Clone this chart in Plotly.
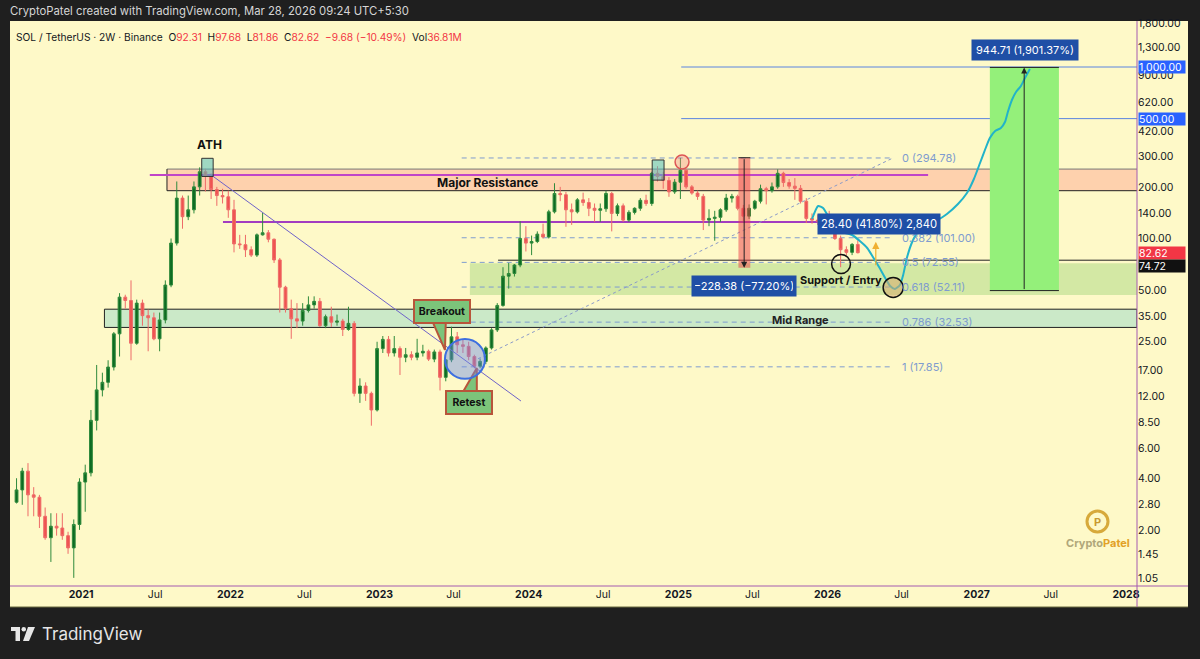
import numpy as np
import pandas as pd
import plotly.graph_objects as go

# ---------------- data ----------------
bar_start = "2020-07-27"   # first 2-week bar
opens = [2.9, 3.42, 4.4, 3.2, 3.1, 2.4, 1.8, 2.1, 2.05, 1.85, 1.57, 2.15, 3.8, 4.3, 8.7, 13.1, 14.5, 17.8, 27.8, 45.5,
         43.5, 24.5, 42, 35.5, 34.5, 26, 33.5, 53.5, 94, 172, 134, 147, 200, 245, 230, 193, 178, 175, 147, 93,
         92, 86, 80, 105, 108, 99, 75, 52, 39, 34, 33, 38, 41, 43, 31, 35, 32.5, 33, 29.5, 32,
         12.5, 13.8, 12.5, 10, 22.8, 25.8, 21.5, 22.8, 20.3, 21, 20.3, 21.5, 22, 19.8, 21.8, 15.5, 19.6, 26.7, 24, 23.5,
         20.5, 18, 19.2, 23, 29.3, 40.7, 60.3, 62.5, 70, 100, 94, 96, 106, 102, 143, 183, 180, 147, 143, 168,
         162, 150, 146, 149, 183, 140, 155, 128, 142, 150, 167, 160, 240, 230, 218, 187, 213, 250, 200, 184,
         176, 128, 131, 133, 147, 172, 176, 150, 135, 150, 165, 195, 190, 200, 240, 212, 202, 196, 165, 131,
         128, 126, 134, 128, 100, 86, 83, 92.31]
highs = [4.0, 4.6, 4.9, 3.55, 3.2, 2.7, 2.5, 2.5, 2.5, 1.95, 2.3, 4.0, 4.8, 10, 18.3, 16.5, 19.5, 28.5, 48, 47,
         57, 44, 44, 38.5, 37, 37, 57, 100, 215, 178, 178, 215, 260, 255, 240, 200, 195, 190, 168, 105,
         105, 90, 107, 141, 112, 100, 77, 53, 44, 42, 42, 46, 46, 45, 36, 40, 36, 34, 40, 33,
         15.3, 14.5, 12.8, 25, 27, 27, 27, 23.5, 23, 22, 26, 24, 22.5, 22.5, 22.5, 19.8, 30.6, 28.5, 26, 25,
         21, 20, 23.5, 30, 42, 68, 72, 71, 126, 118, 104, 110, 122, 147, 210, 200, 187, 160, 172, 185,
         172, 160, 160, 190, 187, 160, 160, 146, 152, 172, 180, 245, 264, 245, 228, 222, 295, 255, 205, 190,
         182, 148, 145, 150, 182, 182, 180, 157, 158, 168, 206, 200, 212, 253, 245, 222, 225, 205, 172, 140,
         138, 137, 145, 132, 104, 90, 94, 97.68]
lows = [2.85, 2.8, 2.4, 2.4, 2.05, 1.75, 1.3, 1.85, 1.75, 1.45, 1.05, 2.0, 2.55, 4.1, 7.6, 12, 13.5, 17, 20.5, 39,
        19.5, 24, 31, 22, 25.5, 22, 32, 52, 91, 114, 128, 140, 178, 188, 170, 155, 160, 132, 83, 87,
        78, 78, 78, 104, 95, 72, 37, 37, 26, 30, 31, 37, 39, 30.5, 30, 30.5, 31, 27, 29, 12,
        11, 11.3, 8.1, 9.8, 21.5, 20.5, 20.5, 16, 19, 19.5, 19.5, 20.5, 19.3, 19, 13, 14.7, 19, 21.5, 21.5, 19.5,
        17.5, 17.5, 18.5, 22.5, 28.5, 40, 51, 60, 68, 84, 80, 94, 100, 100, 140, 165, 117, 120, 140, 155,
        135, 125, 125, 143, 110, 135, 125, 125, 138, 145, 155, 155, 215, 195, 175, 182, 170, 195, 180, 168,
        112, 118, 97, 125, 143, 162, 146, 126, 130, 147, 160, 158, 185, 195, 200, 195, 168, 160, 123, 122,
        120, 118, 126, 98, 68, 80, 80, 81.86]
closes = [3.42, 4.4, 3.2, 3.1, 2.4, 1.8, 2.1, 2.05, 1.85, 1.57, 2.15, 3.8, 4.3, 8.7, 13.1, 14.5, 17.8, 27.8, 45.5, 43.5,
          24.5, 42, 35.5, 34.5, 26, 33.5, 53.5, 94, 172, 134, 147, 200, 245, 230, 193, 178, 175, 147, 93, 92,
          86, 80, 105, 108, 99, 75, 52, 39, 34, 33, 38, 41, 43, 31, 35, 32.5, 33, 29.5, 32, 12.5,
          13.8, 12.5, 10, 22.8, 25.8, 21.5, 22.8, 20.3, 21, 20.3, 21.5, 22, 19.8, 21.8, 15.5, 19.6, 26.7, 24, 23.5, 20.5,
          18, 19.2, 23, 29.3, 40.7, 60.3, 62.5, 70, 100, 94, 96, 106, 102, 143, 183, 180, 147, 143, 168, 162,
          150, 146, 149, 183, 140, 155, 128, 142, 150, 167, 160, 240, 230, 218, 187, 213, 250, 200, 184, 176,
          128, 131, 133, 147, 172, 176, 150, 135, 150, 165, 195, 190, 200, 240, 212, 202, 196, 165, 131, 128,
          126, 134, 128, 100, 86, 83, 92.31, 82.62]

# projected path (hand-drawn curve on the chart)
proj_dates = ["2025-11-24", "2025-12-09", "2025-12-21", "2026-01-02", "2026-01-17", "2026-02-05", "2026-03-02",
              "2026-03-21", "2026-04-08", "2026-04-22", "2026-05-07", "2026-05-22", "2026-06-03", "2026-06-15",
              "2026-06-27", "2026-07-05", "2026-07-14", "2026-07-27", "2026-08-10", "2026-08-30", "2026-09-23",
              "2026-10-20", "2026-11-16", "2026-12-08", "2026-12-25", "2027-01-09", "2027-01-21", "2027-02-02",
              "2027-02-15", "2027-03-01", "2027-03-11", "2027-03-18", "2027-03-28", "2027-04-07", "2027-04-19",
              "2027-04-29", "2027-05-11"]
proj_prices = [129.9, 154.7, 150.6, 135.3, 115.1, 109.1, 104.8, 96.7, 88.0, 78.0, 68.2, 58.9, 52.8, 50.8,
               53.6, 61.3, 76.9, 95.4, 109.1, 118.3, 126.5, 139.0, 158.9, 184.2, 222.3, 275.5, 328.1, 385.5,
               423.5, 441.0, 477.9, 546.6, 642.1, 714.9, 774.9, 862.8, 973.5]

fib_levels = ["0", "0.382", "0.5", "0.618", "0.786", "1"]
fib_prices = [294.78, 101.00, 72.55, 52.11, 32.53, 17.85]

y_ticks = [1.05, 1.45, 2, 2.8, 4, 6, 8.5, 12, 17, 25, 35, 50, 100, 140, 200, 300, 420, 620, 900, 1300, 1800]
x_ticks = ["2021-01-01", "2021-07-01", "2022-01-01", "2022-07-01", "2023-01-01", "2023-07-01", "2024-01-01",
           "2024-07-01", "2025-01-01", "2025-07-01", "2026-01-01", "2026-07-01", "2027-01-01", "2027-07-01",
           "2028-01-01"]
x_tick_text = ["<b>2021</b>", "Jul", "<b>2022</b>", "Jul", "<b>2023</b>", "Jul", "<b>2024</b>", "Jul",
               "<b>2025</b>", "Jul", "<b>2026</b>", "Jul", "<b>2027</b>", "Jul", "<b>2028</b>"]

last_open, last_high, last_low, last_close = 92.31, 97.68, 81.86, 82.62
entry_price = 74.72

dates = pd.date_range(bar_start, periods=len(opens), freq="14D")

# ---------------- styling ----------------
W, H = 1200, 659
PL, PR, PT, PB = 10, 1137, 21, 586
X_RANGE = ["2020-07-11", "2028-01-28"]
Y_RANGE = [-0.0263, 3.2682]
BG = "#fef9c8"
DARK = "#1f1f1f"
FONT = "Inter, Roboto, sans-serif"
GREEN = "#0d6b22"
RED = "#ef5350"
BLUE_LBL = "#1f4fa6"


def px(X):
    return (X - PL) / (PR - PL)


def py(Y):
    return (PB - Y) / (PB - PT)


def ly(p):
    return float(np.log10(p))


fig = go.Figure()

fig.add_trace(go.Candlestick(
    x=dates, open=opens, high=highs, low=lows, close=closes,
    increasing=dict(fillcolor=GREEN, line=dict(color="#2f8a3c", width=1)),
    decreasing=dict(fillcolor=RED, line=dict(color="#ee6b68", width=1)),
    whiskerwidth=0, hoverinfo="skip", showlegend=False))

shapes = []


def hline(x0, x1, p, color, width=1, dash="solid", layer="below"):
    shapes.append(dict(type="line", xref="x", yref="y", x0=x0, x1=x1, y0=p, y1=p,
                       line=dict(color=color, width=width, dash=dash), layer=layer))


def rect(x0, x1, p0, p1, fill, line_color=None, width=1, layer="below"):
    shapes.append(dict(type="rect", xref="x", yref="y", x0=x0, x1=x1, y0=p0, y1=p1,
                       fillcolor=fill, line=dict(color=line_color or "rgba(0,0,0,0)", width=width if line_color else 0),
                       layer=layer))


def circ(x0, x1, p0, p1, fill, line_color, width=1.5, layer="above"):
    shapes.append(dict(type="circle", xref="x", yref="y", x0=x0, x1=x1, y0=p0, y1=p1,
                       fillcolor=fill, line=dict(color=line_color, width=width), layer=layer))


right_edge = X_RANGE[1]

# zones
rect("2021-07-30", right_edge, 190, 254, "rgba(255,160,140,0.45)")
hline("2021-07-30", right_edge, 254, "#777777")
hline("2021-07-30", right_edge, 190, "#222222")
shapes.append(dict(type="line", xref="x", yref="y", x0="2021-07-30", x1="2021-07-30", y0=190, y1=254,
                   line=dict(color="#222222", width=1), layer="below"))
rect("2021-02-27", right_edge, 30.3, 38.7, "rgba(160,220,200,0.55)", "#222222")
rect("2023-08-10", right_edge, 46.8, 71.7, "rgba(160,210,120,0.45)")

# fib retracement
for lvl, p in zip(fib_levels, fib_prices):
    hline("2023-07-21", "2026-06-10", p, "#7f9ccf", 1, "5px,4px")

# horizontal lines
hline("2021-06-18", "2026-09-04", 234.6, "#c044c8", 2)
hline("2021-12-14", "2026-09-28", 124.8, "#a23cc0", 2)
hline("2023-10-18", right_edge, entry_price, "#222222", 1)
hline("2025-01-08", right_edge, 1000, "#5b84e0", 1)
hline("2025-01-08", right_edge, 500, "#5b84e0", 1)

# markers on tops
rect("2021-10-23", "2021-11-20", 230, 293.5, "rgba(80,190,190,0.55)", "#333333", 1, "above")
rect("2024-10-29", "2024-11-27", 219, 287, "rgba(80,190,190,0.55)", "#333333", 1, "above")
circ("2024-12-24", "2025-01-27", 254.2, 306.9, "rgba(240,130,130,0.35)", "#dd5555")

# measurement rectangles
rect("2025-05-28", "2025-06-26", 67.45, 295.83, "rgba(235,60,70,0.5)", None, 1, "above")
hline("2025-05-28", "2025-06-26", 295.83, "#222222", 1, "solid", "above")
rect("2027-02-02", "2027-07-21", 49.69, 994.4, "#94f07a", None, 1, "below")
hline("2027-02-02", "2027-07-21", 994.4, "#222222", 1, "solid", "above")
hline("2027-02-02", "2027-07-21", 49.69, "#222222", 1, "solid", "above")

# circles
circ("2023-06-10", "2023-09-16", 15.2, 25.9, "rgba(110,140,230,0.45)", "#3d6fe0", 2)
circ("2026-01-11", "2026-02-26", 62.5, 80.7, "rgba(0,0,0,0)", "#111111", 1.5)
circ("2026-05-17", "2026-07-05", 45.3, 59.2, "rgba(215,170,110,0.55)", "#111111", 1.5)

# trend lines
fig.add_trace(go.Scatter(x=["2021-11-12", "2023-12-13"], y=[237.7, 11.28], mode="lines",
                         line=dict(color="#6f62c9", width=1), hoverinfo="skip", showlegend=False))
fig.add_trace(go.Scatter(x=["2023-08-30", "2026-06-10"], y=[19.9, 294.78], mode="lines",
                         line=dict(color="#8a9ac9", width=1, dash="dot"), hoverinfo="skip", showlegend=False))

# projection
fig.add_trace(go.Scatter(x=proj_dates, y=proj_prices, mode="lines",
                         line=dict(color="#22b3c9", width=2, shape="spline", smoothing=0.6),
                         hoverinfo="skip", showlegend=False))

# callout pointers
CALL_FILL = "#7cc47a"
CALL_LINE = "#b8553a"
fig.add_trace(go.Scatter(x=["2023-05-12", "2023-06-12", "2023-06-10", "2023-05-12"], y=[32.2, 32.2, 22.4, 32.2],
                         mode="lines", fill="toself", fillcolor=CALL_FILL, line=dict(color=CALL_LINE, width=2),
                         hoverinfo="skip", showlegend=False))
fig.add_trace(go.Scatter(x=["2023-07-24", "2023-08-27", "2023-08-27", "2023-07-24"], y=[12.74, 12.74, 17.58, 12.74],
                         mode="lines", fill="toself", fillcolor=CALL_FILL, line=dict(color=CALL_LINE, width=2),
                         hoverinfo="skip", showlegend=False))

# chrome shapes (axis backgrounds, borders, logo)
shapes += [
    dict(type="rect", xref="paper", yref="paper", x0=px(1137), x1=px(1188), y0=py(607), y1=py(PT),
         fillcolor=BG, line=dict(width=0), layer="below"),
    dict(type="rect", xref="paper", yref="paper", x0=px(PL), x1=px(1188), y0=py(607), y1=py(PB),
         fillcolor=BG, line=dict(width=0), layer="below"),
    dict(type="line", xref="paper", yref="paper", x0=px(PL), x1=px(1188), y0=py(607), y1=py(607),
         line=dict(color="#6b6a40", width=1)),
    dict(type="line", xref="paper", yref="paper", x0=px(PL), x1=px(1188), y0=py(PB), y1=py(PB),
         line=dict(color="#a45bb0", width=1)),
    dict(type="line", xref="paper", yref="paper", x0=1, x1=1, y0=py(607), y1=py(PT),
         line=dict(color="#a45bb0", width=1)),
    # CryptoPatel logo ring
    dict(type="circle", xref="paper", yref="paper", x0=px(1087), x1=px(1108), y0=py(532), y1=py(511),
         fillcolor="rgba(0,0,0,0)", line=dict(color="#d7a93a", width=3)),
    # TradingView logo glyph
    dict(type="rect", xref="paper", yref="paper", x0=px(11), x1=px(20), y0=py(631), y1=py(627),
         fillcolor="#e6e6e6", line=dict(width=0)),
    dict(type="rect", xref="paper", yref="paper", x0=px(15.5), x1=px(20), y0=py(641), y1=py(627),
         fillcolor="#e6e6e6", line=dict(width=0)),
    dict(type="circle", xref="paper", yref="paper", x0=px(21.5), x1=px(26), y0=py(631.5), y1=py(627),
         fillcolor="#e6e6e6", line=dict(width=0)),
    dict(type="path", xref="paper", yref="paper",
         path=f"M {px(28)} {py(627)} L {px(35)} {py(627)} L {px(29)} {py(641)} L {px(23)} {py(641)} Z",
         fillcolor="#e6e6e6", line=dict(width=0)),
]

ann = []


def dtext(x, p, text, size=11, color="#111111", bold=False, xanchor="center", **kw):
    t = f"<b>{text}</b>" if bold else text
    ann.append(dict(x=x, y=ly(p), xref="x", yref="y", text=t, showarrow=False, xanchor=xanchor,
                    yanchor="middle", font=dict(family=FONT, size=size, color=color), **kw))


def darrow(x, p_head, p_tail, color, width=1):
    ann.append(dict(x=x, y=ly(p_head), ax=x, ay=ly(p_tail), xref="x", yref="y", axref="x", ayref="y",
                    text="", showarrow=True, arrowhead=2, arrowsize=1.2, arrowwidth=width, arrowcolor=color))


dtext("2021-11-12", 351, "ATH", 12, bold=True)
dtext("2023-09-23", 213.5, "Major Resistance", 12, bold=True)
dtext("2025-10-26", 33.5, "Mid Range", 11, "#222222", bold=True)
dtext("2026-02-03", 57.3, "Support / Entry", 11, bold=True)
for lvl, p in zip(fib_levels, fib_prices):
    dtext("2026-06-27", p, f"{lvl} ({p:.2f})", 11, "#7f9ccf", xanchor="left")

# callout boxes
dtext("2023-06-03", 37.3, "Breakout", 10.5, bold=True, bgcolor=CALL_FILL, bordercolor=CALL_LINE,
      borderwidth=2, borderpad=4, width=46)
dtext("2023-08-08", 10.99, "Retest", 10.5, bold=True, bgcolor=CALL_FILL, bordercolor=CALL_LINE,
      borderwidth=2, borderpad=4, width=36)

# measurement labels
dtext("2025-06-11", 52.8, "\u2212228.38 (\u221277.20%)", 11, "#ffffff", bgcolor=BLUE_LBL, borderpad=3, width=98)
dtext("2026-05-06", 122.3, "28.40 (41.80%) 2,840", 11.2, "#ffffff", bgcolor=BLUE_LBL, borderpad=3, width=116)
dtext("2027-04-28", 1256, "944.71 (1,901.37%)", 11, "#ffffff", bgcolor=BLUE_LBL, borderpad=3, width=100)

darrow("2025-06-11", 67.45, 295.83, "#222222")
darrow("2027-04-27", 994.4, 49.69, "#222222")
darrow("2026-04-29", 95.8, 68.5, "#f0b030", 1.2)

# price axis badges (the 74.72 badge is nudged down to clear the last-price badge, as on the chart)
for p, bg, txt, shift in [(1000, "#2962ff", "1,000.00", 0), (500, "#2962ff", "500.00", 0),
                          (last_close, "#f23645", f"{last_close:.2f}", 0),
                          (entry_price, "#111111", f"{entry_price:.2f}", -6)]:
    ann.append(dict(x=1, y=ly(p), xref="paper", yref="y", text=txt, showarrow=False, xanchor="left",
                    yanchor="middle", xshift=1, yshift=shift, bgcolor=bg, borderpad=0, width=46, height=12,
                    align="left", font=dict(family=FONT, size=10.5, color="#ffffff")))

# chrome text
red = "#f23645"
legend = ("SOL / TetherUS \u00b7 2W \u00b7 Binance\u00a0\u00a0"
          f"O<span style='color:{red}'>{last_open:.2f}</span>\u00a0\u00a0"
          f"H<span style='color:{red}'>{last_high:.2f}</span>\u00a0\u00a0"
          f"L<span style='color:{red}'>{last_low:.2f}</span>\u00a0\u00a0"
          f"C<span style='color:{red}'>{last_close:.2f}</span>\u00a0\u00a0"
          f"<span style='color:{red}'>\u22129.68 (\u221210.49%)</span>\u00a0\u00a0"
          f"Vol<span style='color:{red}'>36.81M</span>")
ann.append(dict(x=px(14), y=py(37), xref="paper", yref="paper", text=legend, showarrow=False,
                xanchor="left", yanchor="middle", font=dict(family=FONT, size=10.2, color="#131722")))
ann.append(dict(x=px(8), y=py(11), xref="paper", yref="paper",
                text="CryptoPatel created with TradingView.com, Mar 28, 2026 09:24 UTC+5:30", showarrow=False,
                xanchor="left", yanchor="middle", font=dict(family=FONT, size=11.3, color="#d6d6d6")))
ann.append(dict(x=px(40), y=py(634), xref="paper", yref="paper", text="TradingView", showarrow=False,
                xanchor="left", yanchor="middle", font=dict(family=FONT, size=17, color="#e6e6e6")))
ann.append(dict(x=px(1097.5), y=py(521.5), xref="paper", yref="paper", text="<b>P</b>", showarrow=False,
                xanchor="center", yanchor="middle", font=dict(family=FONT, size=11, color="#c89a30")))
ann.append(dict(x=px(1098), y=py(543), xref="paper", yref="paper",
                text="<b><span style='color:#b0a77a'>Crypto</span><span style='color:#e2a126'>Patel</span></b>",
                showarrow=False, xanchor="center", yanchor="middle", font=dict(family=FONT, size=11)))

fig.update_layout(
    width=W, height=H, autosize=False,
    margin=dict(l=PL, r=W - PR, t=PT, b=H - PB, pad=0),
    paper_bgcolor=DARK, plot_bgcolor=BG,
    showlegend=False, hovermode=False,
    shapes=shapes, annotations=ann,
    font=dict(family=FONT, color="#131722"),
    xaxis=dict(type="date", range=X_RANGE, rangeslider=dict(visible=False), showgrid=False, zeroline=False,
               tickmode="array", tickvals=x_ticks, ticktext=x_tick_text, ticks="", showline=False,
               tickfont=dict(family=FONT, size=10.5, color="#131722")),
    yaxis=dict(type="log", range=Y_RANGE, side="right", showgrid=False, zeroline=False, tickmode="array",
               tickvals=y_ticks, ticktext=[f"{v:,.2f}" for v in y_ticks], ticks="", showline=False,
               tickfont=dict(family=FONT, size=10.5, color="#131722")),
)

fig.write_html("out.html", config={"displayModeBar": False},
               post_script="document.body.style.margin='0';document.body.style.background='#1f1f1f';")
